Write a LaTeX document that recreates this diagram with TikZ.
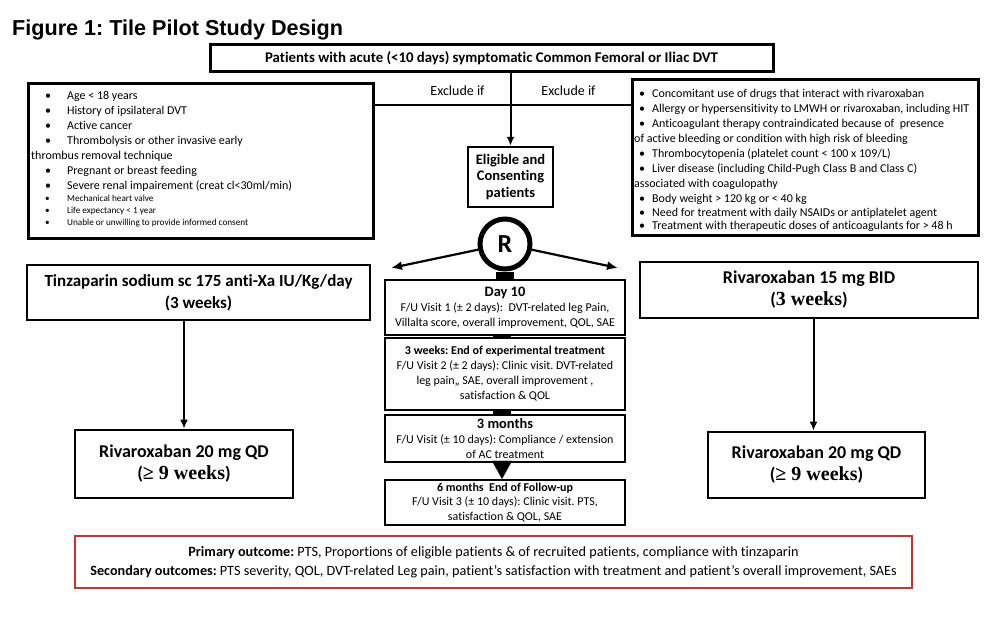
\documentclass[tikz,border=0pt]{standalone}
\usepackage{fontspec}
\setmainfont{Carlito}[Ligatures=NoCommon]
\newfontfamily\titlefont{Liberation Sans}
\newfontfamily\serifb{Liberation Serif}
\usetikzlibrary{arrows.meta}
\definecolor{redb}{RGB}{200,52,52}
\newcommand\setfs[2]{\fontsize{#1}{#2}\selectfont}
\newcommand\wkf{\serifb\bfseries\setfs{20}{22}}
\frenchspacing
\begin{document}
\begin{tikzpicture}[x=1pt,y=-1pt,
  box/.style={draw, line width=2.5pt, inner sep=0pt, align=center},
  ln/.style={anchor=base west, inner sep=0pt},
  lnb/.style={ln, font=\setfs{12}{14}},
  lns/.style={ln, font=\setfs{9.2}{11}},
  lnr/.style={ln, font=\setfs{12}{14}},
  arr/.style={line width=2pt, -{Latex[length=9pt,width=8pt]}},
  bar/.style={line width=18pt},
  cbox/.style={box, line width=2.2pt, minimum width=240pt, font=\setfs{12}{15}},
  tbox/.style={box, line width=2.8pt, font=\bfseries\setfs{18}{22}}
]
\useasboundingbox (0,0) rectangle (1000,618);

% title
\node[anchor=base west, inner sep=0pt, font=\titlefont\bfseries\setfs{21.6}{24}] (title) at (12,36) {Figure 1: Tile Pilot Study Design};

% top box
\node[box, line width=3pt, minimum width=563pt, minimum height=26pt, font=\bfseries\setfs{14.8}{16}] (top) at (491.5,58)
  {Patients with acute (<10 days) symptomatic Common Femoral or Iliac DVT};

% exclusion boxes
\node[box, line width=3pt, minimum width=345pt, minimum height=155pt] (exL) at (200.5,160.5) {};
\node[box, line width=3pt, minimum width=346pt, minimum height=156pt] (exR) at (805,157) {};

% left exclusion text
\node[lnb] (b1) at (45,99) {\textbullet};   \node[lnb] (t1) at (67,99) {Age < 18 years};
\node[lnb] (b2) at (45,114) {\textbullet};  \node[lnb] (t2) at (67,114) {History of ipsilateral DVT};
\node[lnb] (b3) at (45,129) {\textbullet};  \node[lnb] (t3) at (67,129) {Active cancer};
\node[lnb] (b4) at (45,144) {\textbullet};  \node[lnb] (t4) at (67,144) {Thrombolysis or other invasive early};
\node[lnb] (t4b) at (31,159) {thrombus removal technique};
\node[lnb] (b5) at (45,174) {\textbullet};  \node[lnb] (t5) at (67,174) {Pregnant or breast feeding};
\node[lnb] (b6) at (45,189) {\textbullet};  \node[lnb] (t6) at (67,189) {Severe renal impairement (creat cl<30ml/min)};
\node[lns] (b7) at (45,201) {\textbullet};  \node[lns] (t7) at (67,201) {Mechanical heart valve};
\node[lns] (b8) at (45,213) {\textbullet};  \node[lns] (t8) at (67,213) {Life expectancy < 1 year};
\node[lns] (b9) at (45,225) {\textbullet};  \node[lns] (t9) at (67,225) {Unable or unwilling to provide informed consent};

% right exclusion text
\node[lnr] (rb1) at (639,97) {\textbullet};  \node[lnr] (rt1) at (652,97) {Concomitant use of drugs that interact with rivaroxaban};
\node[lnr] (rb2) at (639,112) {\textbullet}; \node[lnr] (rt2) at (652,112) {Allergy or hypersensitivity to LMWH or rivaroxaban, including HIT};
\node[lnr] (rb3) at (639,127) {\textbullet}; \node[lnr] (rt3) at (652,127) {Anticoagulant therapy contraindicated because of\ \ presence};
\node[lnr] (rt3b) at (634,142) {of active bleeding or condition with high risk of bleeding};
\node[lnr] (rb4) at (639,157) {\textbullet}; \node[lnr] (rt4) at (652,157) {Thrombocytopenia (platelet count < 100 x 109/L)};
\node[lnr] (rb5) at (639,172) {\textbullet}; \node[lnr] (rt5) at (652,172) {Liver disease (including Child-Pugh Class B and Class C)};
\node[lnr] (rt5b) at (634,187) {associated with coagulopathy};
\node[lnr] (rb6) at (639,202) {\textbullet}; \node[lnr] (rt6) at (652,202) {Body weight > 120 kg or < 40 kg};
\node[lnr] (rb7) at (639,216) {\textbullet}; \node[lnr] (rt7) at (652,216) {Need for treatment with daily NSAIDs or antiplatelet agent};
\node[lnr] (rb8) at (639,229.5) {\textbullet}; \node[lnr] (rt8) at (652,229.5) {Treatment with therapeutic doses of anticoagulants for > 48 h};

% exclude-if line and labels
\coordinate (hy) at (0,105);
\draw[line width=2pt] (exL.east |- hy) -- (exR.west |- hy);
\node[font=\setfs{14}{16}, inner sep=0pt] (ex1) at (457.5,91) {Exclude if};
\node[font=\setfs{14}{16}, inner sep=0pt] (ex2) at (568.5,91) {Exclude if};

% eligible
\node[box, minimum width=85pt, minimum height=60pt, font=\bfseries\setfs{14.5}{16.5}] (elig) at (510.5,177)
  {Eligible and\\Consenting\\patients};
\draw[arr] (top.south -| elig.north) -- (elig.north);

% randomisation
\node[draw, circle, line width=5pt, minimum size=50pt, inner sep=0pt, font=\bfseries\setfs{26}{28}] (R) at (505,244) {R};
\coordinate (tipL) at (391,268);
\coordinate (tipR) at (618,268);
\draw[arr, line width=2.2pt, -{Latex[length=11pt,width=9pt]}] (R) -- (tipL);
\draw[arr, line width=2.2pt, -{Latex[length=11pt,width=9pt]}] (R) -- (tipR);

% follow-up column
\node[cbox, minimum height=55pt] (d10) at (505,307.5)
  {{\bfseries\setfs{14.4}{15}Day 10}\\F/U Visit 1 (± 2 days):\ \ DVT-related leg Pain,\\Villalta score, overall improvement, QOL, SAE};
\node[cbox, minimum height=72pt] (w3) at (505,374)
  {{\bfseries 3 weeks: End of experimental treatment}\\F/U Visit 2 (± 2 days): Clinic visit. DVT-related\\leg pain,, SAE, overall improvement ,\\satisfaction \& QOL};
\node[cbox, minimum height=47pt] (m3) at (505,438.5)
  {{\bfseries\setfs{14.4}{15}3 months}\\F/U Visit (± 10 days): Compliance / extension\\of AC treatment};
\node[cbox, minimum height=45pt, font=\setfs{12}{14.5}] (m6) at (505,502.5)
  {{\bfseries 6 months\ \ End of Follow-up}\\F/U Visit 3 (± 10 days): Clinic visit. PTS,\\satisfaction \& QOL, SAE};

\draw[bar] (R.south) -- (d10.north);
\draw[bar] ([xshift=-3pt]d10.south) -- ([xshift=-3pt]w3.north);
\draw[bar] ([xshift=-3pt]w3.south) -- ([xshift=-3pt]m3.north);
\draw[line width=0.1pt, -{Triangle[length=18pt,width=20pt]}] ([xshift=-3pt]m3.south) -- ([xshift=-3pt]m6.north);

% treatment arms
\node[tbox, minimum width=343pt, minimum height=55pt, font=\bfseries\setfs{17}{22}] (tinz) at (198.5,292.5)
  {Tinzaparin sodium sc 175 anti-Xa IU/Kg/day\\(3 weeks)};
\node[tbox, minimum width=218pt, minimum height=68pt] (rL) at (184,464)
  {Rivaroxaban 20 mg QD\\({\wkf ≥ 9 weeks})};
\node[tbox, minimum width=338pt, minimum height=56pt] (r15) at (809,290)
  {Rivaroxaban 15 mg BID\\({\wkf 3 weeks})};
\node[tbox, minimum width=217pt, minimum height=66pt] (rR) at (816.5,465)
  {Rivaroxaban 20 mg QD\\({\wkf ≥ 9 weeks})};
\draw[arr] (tinz.south -| rL.north) -- (rL.north);
\draw[arr] ([xshift=-3pt]r15.south -| rR.north) -- ([xshift=-3pt]rR.north);

% outcomes
\node[draw=redb, line width=2.5pt, minimum width=837pt, minimum height=52pt, inner sep=0pt, align=center, font=\setfs{14.2}{19}] (out) at (493.5,562)
  {{\bfseries Primary outcome:} PTS, Proportions of eligible patients \& of recruited patients, compliance with tinzaparin\\
   {\bfseries Secondary outcomes:} PTS severity, QOL, DVT-related Leg pain, patient’s satisfaction with treatment and patient’s overall improvement, SAEs};
\end{tikzpicture}
\end{document}
